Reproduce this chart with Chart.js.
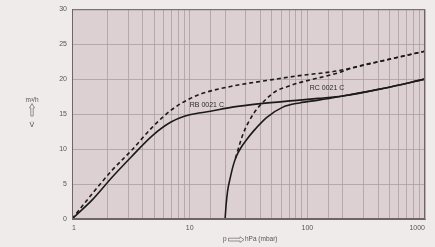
<!DOCTYPE html>
<html>
<head>
<meta charset="utf-8">
<script src="https://cdn.jsdelivr.net/npm/chart.js@4/dist/chart.umd.min.js"></script>
<style>
  body { margin: 0; background: #efebeb; }
  #wrap { width: 435px; height: 247px; }
</style>
</head>
<body>
<div id="wrap"><canvas id="pumpChart" width="435" height="247"></canvas></div>
<script>
// pressure (hPa) and suction capacity (m3/h)
const pressRbSolid = [1, 1.5, 2.2, 3.2, 4.8, 7, 10, 15, 23, 40, 86, 124, 200, 450, 1000]
const flowRbSolid  = [0, 2.8, 6.0, 8.9, 11.9, 13.9, 14.9, 15.4, 16.0, 16.5, 17.0, 17.25, 17.6, 18.7, 20.0]

const pressRbDash = [1, 1.5, 2.2, 3.2, 4.8, 7, 10, 12.5, 23, 45, 86, 183, 456, 1000]
const flowRbDash  = [0, 3.7, 7.0, 9.8, 13.1, 15.6, 17.2, 17.9, 19.0, 19.8, 20.5, 21.2, 22.7, 24.0]

const pressRcSolid = [20, 20.4, 21, 22, 23.5, 25, 27.5, 30, 35, 45, 62, 86, 124, 200, 450, 1000]
const flowRcSolid  = [0, 2.0, 4.0, 5.7, 7.7, 9.0, 10.3, 11.2, 12.6, 14.5, 16.0, 16.6, 17.0, 17.6, 18.7, 20.0]

const pressRcDash = [24.5, 28.5, 34.7, 45, 55, 67, 86, 183, 250, 456, 1000]
const flowRcDash  = [8.7, 12.2, 15.0, 17.2, 18.35, 18.9, 19.5, 20.9, 21.7, 22.7, 24.0]

const xMajorTicks = [1, 10, 100, 1000]
const yTicks = [0, 5, 10, 15, 20, 25, 30]

const curveLabels = [
    { text: 'RB 0021 C', x: 14, y: 16.3 },
    { text: 'RC 0021 C', x: 147, y: 18.7 },
]

function zip(xs, ys){
    return xs.map((x, i) => ({ x: x, y: ys[i] }))
}

const textColor = '#5a5356'
const gridColor = '#ab9ea3'
const frameColor = '#6f6468'
const lineColor = '#1c1a1b'

const decorPlugin = {
    id: 'decor',
    beforeDraw(chart){
        const { ctx, chartArea: a } = chart
        ctx.save()
        ctx.fillStyle = '#dcd0d3'
        ctx.fillRect(a.left, a.top, a.right - a.left, a.bottom - a.top)
        ctx.restore()
    },
    afterDraw(chart){
        const { ctx, chartArea: a, scales } = chart
        ctx.save()
        ctx.strokeStyle = frameColor
        ctx.lineWidth = 1
        ctx.strokeRect(a.left + 0.5, a.top + 0.5, a.right - a.left - 1, a.bottom - a.top - 1)

        // curve names
        ctx.font = '7px "Liberation Sans", sans-serif'
        ctx.fillStyle = '#2e2a2c'
        ctx.textAlign = 'center'
        ctx.textBaseline = 'middle'
        curveLabels.forEach(l => {
            ctx.fillText(l.text, scales.x.getPixelForValue(l.x), scales.y.getPixelForValue(l.y))
        })

        // y axis title: m3/h, up arrow, V dot
        ctx.fillStyle = textColor
        ctx.font = '6.5px "Liberation Sans", sans-serif'
        ctx.fillText('m³/h', 32, 100)
        ctx.font = '7px "DejaVu Sans", sans-serif'
        ctx.fillText('V̇', 32, 125)
        ctx.strokeStyle = '#7d7478'
        ctx.lineWidth = 0.8
        ctx.beginPath()
        ctx.moveTo(30.8, 116); ctx.lineTo(30.8, 108); ctx.lineTo(29.5, 108)
        ctx.lineTo(32, 103.5); ctx.lineTo(34.5, 108); ctx.lineTo(33.2, 108)
        ctx.lineTo(33.2, 116); ctx.closePath()
        ctx.stroke()

        // x axis title: p => hPa (mbar)
        ctx.font = '6.5px "Liberation Sans", sans-serif'
        ctx.textAlign = 'left'
        ctx.fillText('p', 223, 239.5)
        ctx.fillText('hPa (mbar)', 245, 239.5)
        ctx.beginPath()
        ctx.moveTo(228.5, 238.2); ctx.lineTo(240, 238.2); ctx.lineTo(240, 236.8)
        ctx.lineTo(244, 239.6); ctx.lineTo(240, 242.4); ctx.lineTo(240, 241)
        ctx.lineTo(228.5, 241); ctx.closePath()
        ctx.stroke()
        ctx.restore()
    }
}

const ctx = document.getElementById('pumpChart').getContext('2d')
const pumpChart = new Chart(ctx, {
    type: 'line',
    data: {
        datasets: [
            {
                label: 'RB 0021 C',
                data: zip(pressRbSolid, flowRbSolid),
                borderColor: lineColor,
                borderWidth: 1.6,
                pointRadius: 0,
                cubicInterpolationMode: 'monotone',
            },
            {
                label: 'RB 0021 C (max)',
                data: zip(pressRbDash, flowRbDash),
                borderColor: lineColor,
                borderWidth: 1.6,
                borderDash: [4, 3],
                pointRadius: 0,
                cubicInterpolationMode: 'monotone',
            },
            {
                label: 'RC 0021 C',
                data: zip(pressRcSolid, flowRcSolid),
                borderColor: lineColor,
                borderWidth: 1.6,
                pointRadius: 0,
                cubicInterpolationMode: 'monotone',
            },
            {
                label: 'RC 0021 C (max)',
                data: zip(pressRcDash, flowRcDash),
                borderColor: lineColor,
                borderWidth: 1.6,
                borderDash: [4, 3],
                pointRadius: 0,
                cubicInterpolationMode: 'monotone',
            },
        ]
    },
    options: {
        responsive: false,
        animation: false,
        devicePixelRatio: 1,
        layout: { padding: { top: 8, right: 10, left: 0, bottom: 0 } },
        plugins: {
            legend: { display: false },
            tooltip: { enabled: false },
        },
        scales: {
            x: {
                type: 'logarithmic',
                min: 1,
                max: 1000,
                afterFit: s => { s.height = 28 },
                grid: { color: gridColor, lineWidth: 0.8, drawTicks: false },
                border: { color: frameColor },
                ticks: {
                    autoSkip: false,
                    maxRotation: 0,
                    align: 'inner',
                    padding: 5,
                    color: textColor,
                    font: { family: 'Liberation Sans', size: 7 },
                    callback: v => xMajorTicks.includes(v) ? String(v) : '',
                }
            },
            y: {
                min: 0,
                max: 30,
                afterFit: s => { s.width = 72 },
                afterBuildTicks: s => { s.ticks = yTicks.map(v => ({ value: v })) },
                grid: { color: gridColor, lineWidth: 0.8, drawTicks: false },
                border: { color: frameColor },
                ticks: {
                    padding: 5,
                    color: textColor,
                    font: { family: 'Liberation Sans', size: 7 },
                }
            }
        }
    },
    plugins: [decorPlugin]
})
</script>
</body>
</html>
